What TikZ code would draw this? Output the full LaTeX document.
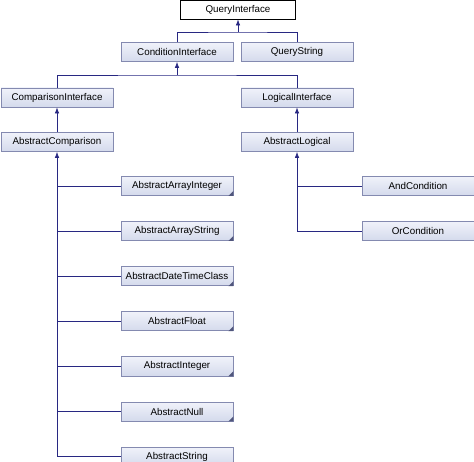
\documentclass[tikz,border=0pt]{standalone}
\usepackage{fontspec}
\setmainfont{Liberation Sans}
\usetikzlibrary{positioning, arrows.meta}
\definecolor{edgeblue}{RGB}{40,40,130}
\definecolor{boxline}{RGB}{132,138,176}
\definecolor{boxtop}{RGB}{240,242,250}
\definecolor{boxbot}{RGB}{212,218,236}
\definecolor{foldcol}{RGB}{80,86,124}

\begin{document}
\begin{tikzpicture}[x=1pt, y=-1pt, font=\fontsize{9.8}{11}\selectfont, text=black,
    cls/.style={draw=boxline, line width=0.8pt, top color=boxtop, bottom color=boxbot, minimum width=112pt, minimum height=19pt, inner sep=1pt},
    rootcls/.style={draw=black, line width=0.8pt, fill=white, minimum width=115pt, minimum height=19pt, inner sep=1pt},
    inh/.style={draw=edgeblue, line width=0.7pt},
    >={Latex[length=6pt, width=4.5pt]}]
        \useasboundingbox (0,0) rectangle (474,462);

        % Raiz y segundo nivel
        \node[rootcls] (qi) at (238,9.5) {QueryInterface};
        \node[cls] (ci) at (177,52) {ConditionInterface};
        \node[cls] (qs) at (297,52) {QueryString};

        % Interfaces de comparacion y logica
        \node[cls] (cmpi) at (57,97.5) {ComparisonInterface};
        \node[cls] (li) at (297,97.5) {LogicalInterface};
        \node[cls] (ac) at (57,142) {AbstractComparison};
        \node[cls] (al) at (297,142) {AbstractLogical};

        % Hojas de AbstractComparison
        \node[cls] (aai) at (177,186) {AbstractArrayInteger};
        \node[cls, below=25.3pt of aai] (aas) {AbstractArrayString};
        \node[cls, below=25.3pt of aas] (adt) {AbstractDateTimeClass};
        \node[cls, below=25.3pt of adt] (afl) {AbstractFloat};
        \node[cls, below=25.3pt of afl] (ain) {AbstractInteger};
        \node[cls, below=25.3pt of ain] (anu) {AbstractNull};
        \node[cls, below=25.3pt of anu] (ast) {AbstractString};

        % Hojas de AbstractLogical
        \node[cls] (andc) at (418,186) {AndCondition};
        \node[cls, below=25.3pt of andc] (orc) {OrCondition};

        \foreach \n in {aai, aas, adt, afl, ain, anu, ast}
            \fill[foldcol] (\n.south east) -- ++(-5,0) -- ++(5,-5) -- cycle;

        % Conexiones
        \coordinate (j1) at (238,32);
        \coordinate (j2) at (177,75);
        \draw[inh] (ci.north) |- (j1) -| (qs.north);
        \draw[inh, ->] (j1) -- (qi);
        \draw[inh] (cmpi.north) |- (j2) -| (li.north);
        \draw[inh, ->] (j2) -- (ci);
        \draw[inh, ->] (ac) -- (cmpi);
        \draw[inh, ->] (al) -- (li);

        \foreach \n in {aai, aas, adt, afl, ain, anu, ast}
            \draw[inh] (\n.west) -- (\n.west -| ac.south);
        \draw[inh, ->] (ast.west -| ac.south) -- (ac);

        \foreach \n in {andc, orc}
            \draw[inh] (\n.west) -- (\n.west -| al.south);
        \draw[inh, ->] (orc.west -| al.south) -- (al);

    \end{tikzpicture}
\end{document}
